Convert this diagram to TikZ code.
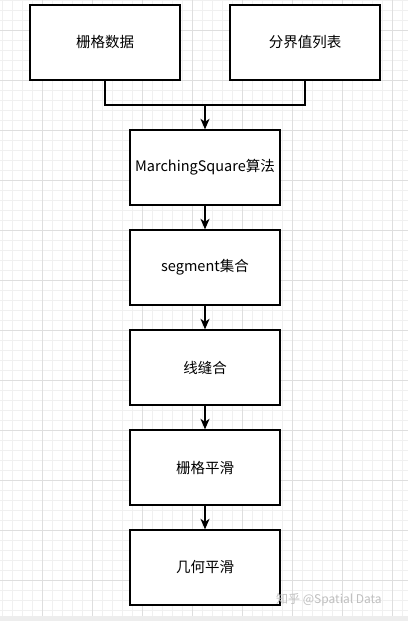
\documentclass[tikz,border=0pt]{standalone}
\usepackage{fontspec}
\setmainfont{Noto Sans CJK SC}
\usetikzlibrary{arrows.meta}
\definecolor{minorgrid}{HTML}{F0F0F0}
\definecolor{majorgrid}{HTML}{DEDEDE}
\definecolor{bandgray}{HTML}{EDEDED}
\tikzset{
  box/.style={draw=black, line width=1.3pt, fill=white, minimum width=150pt, minimum height=75pt, inner sep=0pt, font=\fontsize{14.5}{16}\selectfont},
  conn/.style={draw=black, line width=1.3pt},
  arr/.style={conn, -{Stealth[length=10.5pt, width=9pt, inset=3pt]}}
}
\begin{document}
\begin{tikzpicture}[x=1pt, y=-1pt]
\useasboundingbox (0,0) rectangle (408,621);
\fill[white] (0,0) rectangle (408,621);
% minor grid
\foreach \x in {2,12,...,402} \draw[minorgrid, line width=0.6pt] (\x,0) -- (\x,616);
\foreach \y in {0,10,...,610} \draw[minorgrid, line width=0.6pt] (0,\y) -- (408,\y);
% major grid
\foreach \x in {42,92,...,392} \draw[majorgrid, line width=0.8pt] (\x,0) -- (\x,616);
\foreach \y in {30,80,...,580} \draw[majorgrid, line width=0.8pt] (0,\y) -- (408,\y);
\fill[bandgray] (0,616) rectangle (408,621);

\node[box] (a) at (105,42.5) {栅格数据};
\node[box] (b) at (305,42.5) {分界值列表};
\node[box] (c) at (205,167.5) {MarchingSquare算法};
\node[box] (d) at (205,267.5) {segment集合};
\node[box] (e) at (205,367.5) {线缝合};
\node[box] (f) at (205,467.5) {栅格平滑};
\node[box] (g) at (205,567.5) {几何平滑};

\coordinate (j) at (205,105);
\draw[conn] (a.south) |- (j) -| (b.south);
\draw[arr] (j) -- (c.north);
\draw[arr] (c) -- (d);
\draw[arr] (d) -- (e);
\draw[arr] (e) -- (f);
\draw[arr] (f) -- (g);

\node[anchor=west, text=black!25, font=\fontsize{12}{14}\selectfont, inner sep=0pt] (wm) at (276,600) {知乎 @Spatial Data};
\end{tikzpicture}
\end{document}
